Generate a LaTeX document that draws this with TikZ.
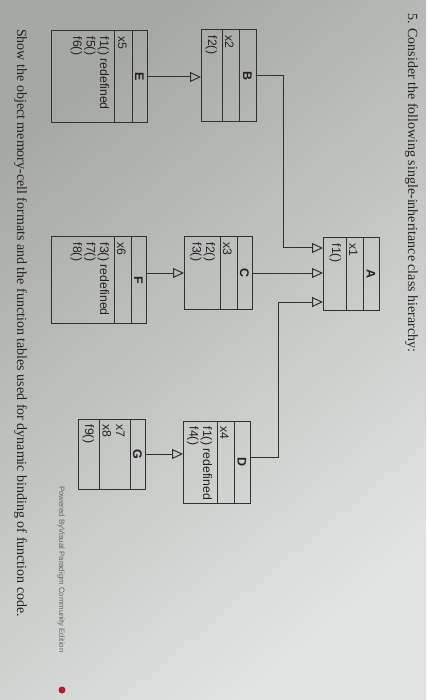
\documentclass[tikz,border=0pt]{standalone}
\usepackage{fontspec}
\setmainfont{Liberation Serif}
\setsansfont{Liberation Sans}
\usetikzlibrary{arrows.meta,calc}
\definecolor{ink}{RGB}{48,50,48}
\definecolor{txt}{RGB}{34,34,34}
\definecolor{bgdark}{RGB}{165,168,163}
\definecolor{bglight}{RGB}{225,228,226}
\definecolor{vpred}{RGB}{175,30,50}
\newcommand\umlclass[9]{%
  \node[clsbox, minimum width={(#5-#2)*1pt}, minimum height={(#7-#6)*1pt}] (#1) at (#2,#6) {};
  \draw[divline] (#3,#6) -- (#3,#7);
  \draw[divline] (#4,#6) -- (#4,#7);
  \node[clsname] (#1-name) at ({(#4+#5)/2},{(#6+#7)/2}) {#1};
  \node[clstext] (#1-attr) at (#4,#6) {\strut #8};
  \node[clstext] (#1-ops) at (#3,#6) {\strut #9};
}
\begin{document}
\begin{tikzpicture}[x=1pt,y=-1pt,
  clsbox/.style={draw=ink, line width=1pt, inner sep=0pt, outer sep=0pt, anchor=north west},
  divline/.style={draw=ink, line width=1pt},
  clsname/.style={rotate=-90, font=\fontsize{12.5}{13.5}\selectfont\sffamily\bfseries, text=txt, inner sep=0pt},
  clstext/.style={rotate=-90, anchor=north west, align=left, font=\fontsize{12.3}{13.5}\selectfont\sffamily, text=txt, inner xsep=5.5pt, inner ysep=4.3pt},
  inh/.style={draw=ink, line width=1pt, -{Triangle[open, length=11pt, width=10pt, line width=1pt]}},
  serifline/.style={rotate=-90, anchor=base west, inner sep=0pt, text=txt, font=\fontsize{14}{16}\selectfont},
  watermark/.style={rotate=-90, anchor=base west, inner sep=0pt, text=black!60, font=\fontsize{7.8}{9}\selectfont\sffamily}
]
\useasboundingbox (0,0) rectangle (426,700);
\shade[top color=bgdark, bottom color=bglight, shading angle=40] (0,0) rectangle (426,700);

\umlclass{A}{323}{346}{363}{379}{238}{310}{x1}{f1()}
\umlclass{B}{201}{222}{239}{256}{30}{122}{x2}{f2()}
\umlclass{C}{184}{220}{237}{252}{237}{309}{x3}{f2()\\f3()}
\umlclass{D}{183}{217}{234}{250}{421}{503}{x4}{f1() redefined\\f4()}
\umlclass{E}{51}{114}{132}{147}{31}{123}{x5}{f1() redefined\\f5()\\f6()}
\umlclass{F}{51}{114}{131}{146}{237}{323}{x6}{f3() redefined\\f7()\\f8()}
\umlclass{G}{78}{99}{130}{145}{419}{489}{x7\\x8}{f9()}

\coordinate (kB) at (283,248);
\coordinate (kD) at (278,302);
\draw[inh] (E.east) -- (E.east -| B.west);
\draw[inh] (B.east) -| (kB) -- (kB -| A.west);
\draw[inh] (C.east) -- (C.east -| A.west);
\draw[inh] (D.east |- 0,457) -| (kD) -- (kD -| A.west);
\draw[inh] (F.east |- C.west) -- (C.west);
\draw[inh] (G.east) -- (G.east -| D.west);

\node[serifline] (title) at (408,13) {5. Consider the following single-inheritance class hierarchy:};
\node[serifline] (task) at (17,29) {Show the object memory-cell formats and the function tables used for dynamic binding of function code.};
\node[watermark] (vp) at (59,486) {Powered ByVisual Paradigm Community Edition};
\node[circle, fill=vpred, minimum size=7pt, inner sep=0pt] (logo) at (62,690) {};
\end{tikzpicture}
\end{document}
